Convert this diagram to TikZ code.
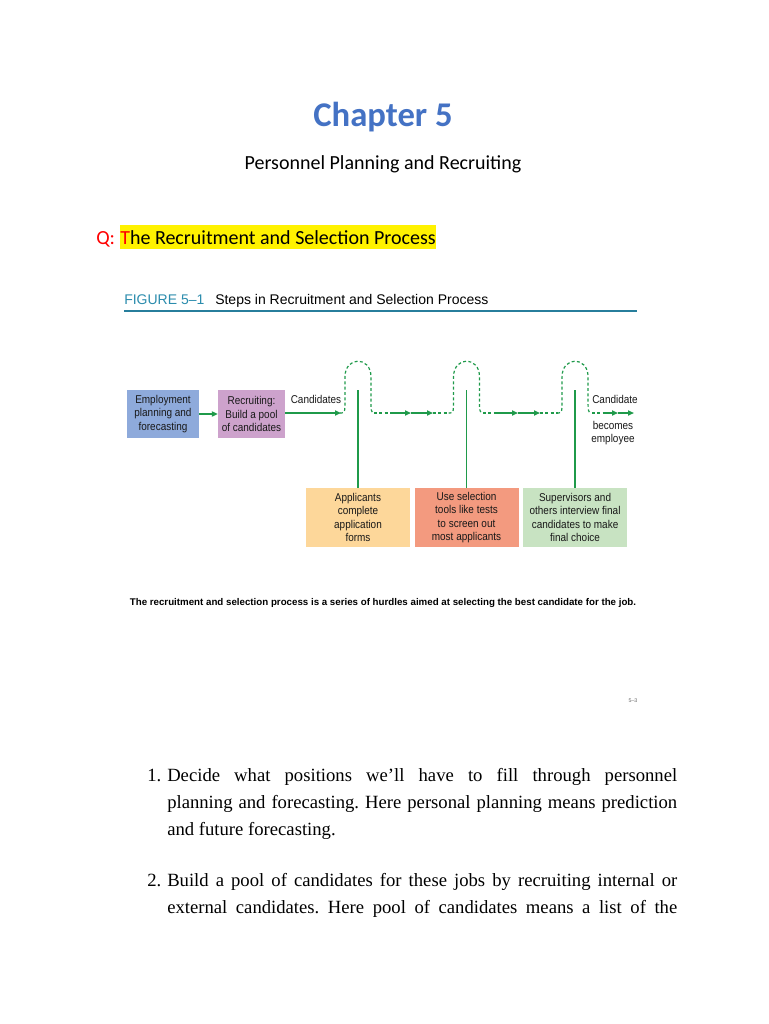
\documentclass[tikz,border=0pt]{standalone}
\usepackage{fontspec}
\setmainfont{Liberation Serif}
\newfontfamily\calibri{Carlito}
\newfontfamily\arial{Liberation Sans}
\newfontfamily\narrow{Liberation Sans}[FakeStretch=0.88]
\usetikzlibrary{arrows.meta, positioning}
\frenchspacing

\definecolor{chapblue}{HTML}{4472C4}
\definecolor{figteal}{HTML}{2B8CAD}
\definecolor{hgreen}{HTML}{1F9A4A}
\definecolor{planblue}{HTML}{8EAADB}
\definecolor{recpink}{HTML}{CDA2CC}
\definecolor{apppeach}{HTML}{FDD79A}
\definecolor{toolred}{HTML}{F39A7F}
\definecolor{finalgreen}{HTML}{C8E3C2}

\tikzset{
    stepbox/.style={inner sep=0pt, align=center, text=black!90,
        font=\narrow\fontsize{8.5}{10}\selectfont},
    flow/.style={hgreen, line width=1.1pt, -{Triangle[length=4.5pt, width=3.8pt]}},
    hurdle/.style={hgreen, line width=0.9pt, dash pattern=on 2.2pt off 1.8pt},
    small/.style={font=\narrow\fontsize{8.5}{10}\selectfont, inner sep=0pt, text=black!90},
}

\begin{document}
\begin{tikzpicture}[x=0.75pt, y=-0.75pt]
    \useasboundingbox[fill=white] (0,0) rectangle (768,1024);

    % page headings
    \node[font=\calibri\bfseries\fontsize{26}{30}\selectfont, text=chapblue] (chap) at (383,117) {Chapter 5};
    \node[font=\calibri\fontsize{15}{18}\selectfont] (sub) at (383,164) {Personnel Planning and Recruiting};
    \node[anchor=base west, inner sep=0pt, font=\calibri\fontsize{15}{18}\selectfont, text=red] (qmark) at (96,244) {Q:};
    \node[right=3pt of qmark.base east, anchor=base west, fill=yellow, inner xsep=0.5pt, inner ysep=3.5pt,
        font=\calibri\fontsize{15}{18}\selectfont] (qtitle) {\textcolor{red}{T}he Recruitment and Selection Process};

    % figure heading
    \node[anchor=base west, inner sep=0pt, font=\arial\fontsize{10.5}{12}\selectfont, text=figteal] (fignum) at (124,304) {FIGURE 5–1};
    \node[anchor=base west, inner sep=0pt, font=\arial\fontsize{10.5}{12}\selectfont] (figtitle) at (215,304) {Steps in Recruitment and Selection Process};
    \draw[figteal!90!black, line width=2pt] (124,311) -- (637,311);

    % first row
    \node[stepbox, fill=planblue, minimum width=54pt, minimum height=36pt] (plan) at (163,414) {Employment\\planning and\\forecasting};
    \node[stepbox, fill=recpink, minimum width=50pt, minimum height=36pt] (recruit) at (251.5,414) {Recruiting:\\Build a pool\\of candidates};

    % hurdle boxes
    \node[stepbox, fill=apppeach, minimum width=78pt, minimum height=44pt] (app) at (358,517.5) {Applicants\\complete\\application\\forms};
    \node[stepbox, fill=toolred, minimum width=78pt, minimum height=44pt, right=3pt of app] (tools) {Use selection\\tools like tests\\to screen out\\most applicants};
    \node[stepbox, fill=finalgreen, minimum width=78pt, minimum height=44pt, right=3pt of tools] (final) {Supervisors and\\others interview final\\candidates to make\\final choice};

    % the three hurdles
    \foreach \b in {app, tools, final} {
        \begin{scope}[shift={(\b.north)}]
            \draw[hurdle] (-18,-75) -- (-16,-75) .. controls (-13,-75) and (-13,-79) .. (-13,-85)
                -- (-13,-111) .. controls (-13,-132) and (13,-132) .. (13,-111)
                -- (13,-85) .. controls (13,-79) and (13,-75) .. (16,-75);
        \end{scope}
        \draw[hgreen, line width=1.1pt] (\b.north) -- ++(0,-98);
    }

    % flow between the hurdles
    \coordinate (c0) at (341,413);
    \coordinate (h1) at (374,413);
    \coordinate (a1) at (390,413);
    \coordinate (a2) at (411,413);
    \coordinate (a3) at (433,413);
    \coordinate (h2) at (449,413);
    \coordinate (h3) at (483,413);
    \coordinate (b1) at (497,413);
    \coordinate (b2) at (518,413);
    \coordinate (b3) at (540,413);
    \coordinate (h4) at (558,413);
    \coordinate (h5) at (592,413);
    \coordinate (d1) at (603,413);
    \coordinate (d2) at (618,413);
    \coordinate (d3) at (634,413);

    \draw[flow] (plan) -- (recruit);
    \draw[flow] (recruit.east |- c0) -- (c0);
    \draw[hurdle] (h1) -- (a1) (a3) -- (h2) (h3) -- (b1) (b3) -- (h4) (h5) -- (d1);
    \draw[flow] (a1) -- (a2);
    \draw[flow] (a2) -- (a3);
    \draw[flow] (b1) -- (b2);
    \draw[flow] (b2) -- (b3);
    \draw[flow] (d1) -- (d2);
    \draw[flow] (d2) -- (d3);

    \node[small, anchor=south] (cands) at (316,404) {Candidates};
    \node[small, anchor=south] (cand) at (615,404) {Candidate};
    \node[small, align=center, anchor=north] (employ) at (613,421) {becomes\\employee};

    % caption
    \node[font=\arial\bfseries\fontsize{7.3}{9}\selectfont, inner sep=0pt] (caption) at (383,603)
        {The recruitment and selection process is a series of hurdles aimed at selecting the best candidate for the job.};
    \node[font=\arial\fontsize{4}{5}\selectfont, text=black!60, inner sep=0pt] (pageno) at (633,701) {5–3};

    % numbered list
    \node[anchor=base west, inner sep=0pt, font=\fontsize{14}{20.25}\selectfont] (n1) at (147,781) {1.};
    \node[anchor=base west, inner sep=0pt, text width=382.5pt, align=justify, font=\fontsize{14}{20.25}\selectfont] (item1) at (167,781)
        {Decide what positions we'll have to fill through personnel\linebreak planning and forecasting. Here personal planning means prediction\linebreak and future forecasting.};
    \node[anchor=base west, inner sep=0pt, font=\fontsize{14}{20.25}\selectfont] (n2) at (147,886) {2.};
    \node[anchor=base west, inner sep=0pt, text width=382.5pt, align=justify, font=\fontsize{14}{20.25}\selectfont] (item2) at (167,886)
        {Build a pool of candidates for these jobs by recruiting internal or\linebreak external candidates. Here pool of candidates means a list of the\linebreak};
\end{tikzpicture}
\end{document}
